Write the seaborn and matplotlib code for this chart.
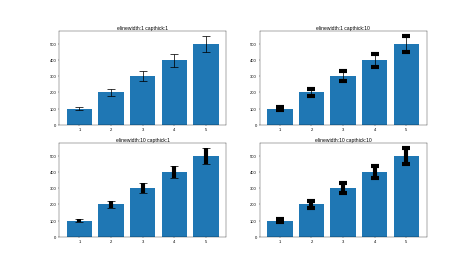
import matplotlib
matplotlib.use("Agg")
import matplotlib.pyplot as plt
import seaborn as sns

# data
x_labels = ["1", "2", "3", "4", "5"]
values = [100, 200, 300, 400, 500]
errors = [10, 20, 30, 40, 50]
elinewidths = [1, 1, 10, 10]
capthicks = [1, 10, 1, 10]

plt.rcParams["font.family"] = ["Liberation Sans", "DejaVu Sans"]

fig, axes = plt.subplots(2, 2, figsize=(16, 9))
axes = axes.flatten()

for ax, elw, ct in zip(axes, elinewidths, capthicks):
    sns.barplot(x=x_labels, y=values, ax=ax, color="#1f77b4",
                saturation=1, errorbar=None, width=0.8)
    pos = list(range(len(x_labels)))
    # thin lines get a bit of extra weight so they survive the small output
    ax.errorbar(pos, values, yerr=errors, fmt="none", ecolor="black",
                elinewidth=max(elw, 1.8), capsize=10, capthick=max(ct, 1.8))
    # back to plain matplotlib margins
    ax.margins(x=0.05)
    ax.autoscale(enable=True, axis="x")
    ax.set_title(f"elinewidth:{elw} capthick:{ct}")

fig.savefig("out.png", dpi=474 / 16)
